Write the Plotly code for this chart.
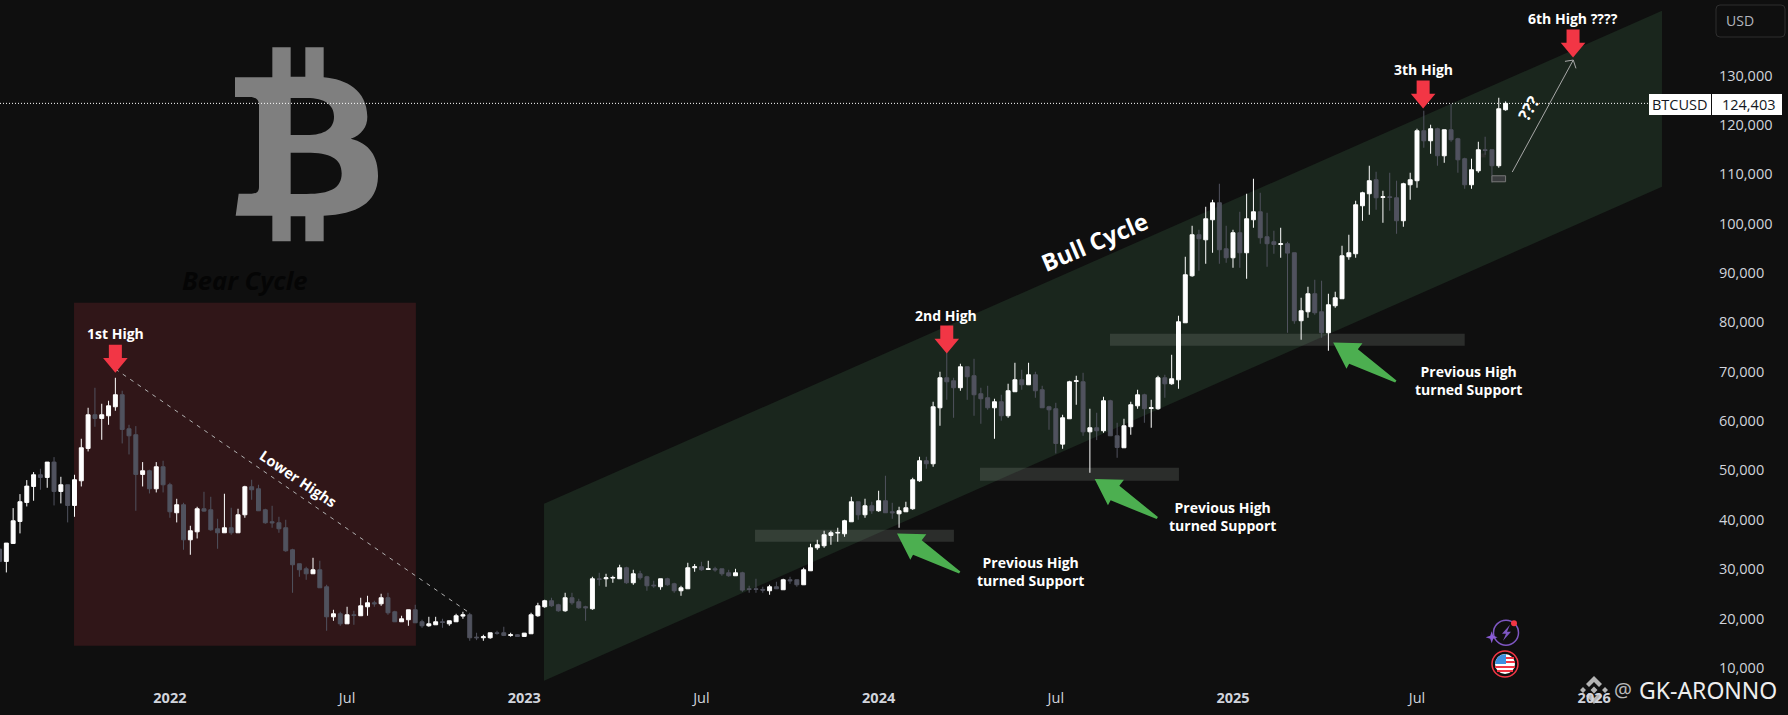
import re
import pandas as pd
import plotly.graph_objects as go

###############################################################################
#                          Weekly BTCUSD candles                              #
###############################################################################

first_week = "2021-07-12"

opens = [
    34050, 31550, 35200, 39660, 43510, 46750, 49120, 48580, 51690, 45740,
    47090, 42900, 47900, 54460, 61280, 60540, 61080, 62900, 65340, 58440,
    57230, 49190, 49930, 46280, 50740, 47090, 41420, 43040, 35940, 37560,
    42230, 42020, 38170, 37360, 38380, 37360, 41010, 46690, 46280, 42020,
    39590, 39390, 38380, 33920, 31080, 30060, 29050, 29860, 26410, 20330,
    20940, 18910, 20740, 20540, 22360, 23170, 22970, 24190, 21350, 19320,
    19730, 21750, 19320, 18510, 18710, 19320, 18910, 19320, 20470, 20740,
    16210, 16080, 16080, 17090, 17090, 16550, 16690, 16350, 16890, 20540,
    22360, 23580, 22770, 21550, 24190, 23380, 22360, 21960, 28040, 28040,
    28170, 28040, 30270, 27230, 29050, 28440, 26750, 26420, 28040, 27020,
    25610, 26010, 30270, 30470, 29930, 30060, 30060, 29250, 28650, 29250,
    26010, 26010, 25880, 25610, 26420, 25810, 27840, 27840, 26820, 29660,
    34320, 34730, 36820, 37300, 37160, 39590, 43650, 41010, 42840, 41820,
    43850, 41620, 41210, 41620, 42230, 47900, 51960, 51350, 62700, 68780,
    68170, 66760, 71010, 69190, 65540, 64730, 62700, 63920, 61080, 65950,
    68370, 67360, 69390, 66350, 62900, 62500, 55330, 60470, 68040, 67970,
    57830, 58650, 58040, 64120, 57020, 54590, 58850, 63100, 65330, 62560,
    62500, 68780, 67560, 68370, 79930, 89460, 97770, 96750, 100810, 104260,
    94930, 93110, 98180, 94120, 100810, 102430, 97360, 96350, 95810, 95950,
    94120, 80340, 82160, 85810, 82160, 77900, 83380, 84800, 93310, 93920,
    103650, 106080, 108920, 105340, 105470, 105270, 100610, 107900, 108720, 118850,
    116820, 119260, 113780, 119050, 117230, 113180, 107900, 110740, 115000, 115000,
    111760, 123110]

highs = [
    34300, 35270, 42360, 45200, 48040, 49660, 50340, 51690, 52700, 48710,
    47100, 49120, 56420, 62700, 66750, 63510, 64120, 68780, 66150, 59250,
    58980, 51690, 50130, 51690, 51960, 47500, 44250, 43440, 38780, 42630,
    45670, 44660, 40200, 45270, 42430, 42230, 46890, 48110, 47090, 42230,
    42830, 40600, 40000, 34120, 31080, 30470, 32290, 31690, 26820, 21750,
    21350, 22360, 21550, 24190, 24590, 23580, 25000, 25200, 21550, 20540,
    21750, 22770, 19730, 20330, 20330, 19930, 19520, 20940, 21350, 21140,
    17090, 16690, 17090, 17500, 18310, 17090, 16820, 17050, 21150, 23170,
    23780, 24190, 22970, 25200, 25200, 23980, 22560, 28440, 29250, 29050,
    28650, 30880, 30470, 29860, 29660, 28650, 27630, 28040, 28240, 27230,
    26620, 31280, 31010, 31480, 31690, 30470, 30060, 29860, 30060, 29460,
    26620, 28040, 26420, 26820, 27430, 28040, 28440, 27840, 30270, 35130,
    35940, 37770, 37770, 38380, 40000, 44660, 43650, 44260, 43650, 45880,
    48920, 43440, 42630, 43650, 48510, 52770, 52770, 63920, 70000, 73850,
    68780, 71620, 71010, 72630, 66760, 67160, 64530, 65340, 67570, 71820,
    70400, 71820, 70000, 67160, 63100, 63710, 61280, 68170, 69190, 69790,
    62500, 61690, 64930, 64320, 59660, 60470, 63920, 66350, 65540, 64320,
    69190, 69390, 73440, 81350, 93310, 99590, 98780, 103440, 104860, 108110,
    99590, 98780, 102430, 106080, 109120, 106280, 102230, 98580, 99190, 96350,
    94120, 85000, 87230, 88650, 88450, 85810, 86220, 95540, 97770, 104660,
    106490, 111760, 110540, 106690, 110340, 108720, 108310, 110340, 119260, 122910,
    120070, 119460, 119050, 124320, 117430, 113380, 113180, 116620, 117640, 115000,
    125540, 124800]

lows = [
    31000, 29320, 35200, 37230, 42700, 43850, 46080, 46480, 42900, 43310,
    39460, 40600, 46750, 53850, 58850, 56210, 59250, 62090, 55470, 53240,
    41820, 46750, 45330, 45540, 45540, 40400, 39460, 33920, 32900, 36210,
    41620, 37770, 34120, 37360, 36960, 37360, 40400, 44050, 41820, 39190,
    38380, 37360, 33510, 25200, 28440, 27830, 29050, 26210, 17500, 19520,
    18510, 18910, 18710, 20540, 20540, 22360, 22560, 20740, 19320, 19320,
    18510, 19120, 18100, 18310, 18710, 18100, 18510, 19320, 19930, 15470,
    15600, 15470, 15870, 16690, 16420, 16280, 16350, 16300, 16890, 20330,
    22160, 22360, 21350, 21350, 22770, 21960, 19520, 21750, 26620, 26420,
    27230, 28040, 27020, 26820, 27840, 25610, 26210, 25810, 26620, 25200,
    24590, 26010, 29460, 29660, 29930, 29460, 28650, 28440, 28650, 25400,
    25200, 25200, 25200, 24800, 26010, 25810, 27020, 26420, 26820, 29660,
    33920, 34320, 34930, 35540, 36550, 39590, 40000, 40400, 41210, 41620,
    41420, 40200, 38380, 41620, 42020, 47700, 50340, 50740, 59050, 64320,
    60670, 66150, 64320, 61080, 59460, 62300, 56420, 60070, 60670, 65950,
    66350, 67360, 64730, 62700, 58240, 53440, 54390, 60470, 63310, 57020,
    49520, 56150, 57630, 57020, 52560, 54590, 57230, 62500, 59660, 58650,
    62290, 64730, 67360, 66550, 79930, 89250, 90470, 91890, 94120, 91890,
    92090, 91080, 91080, 88850, 99190, 95950, 91280, 93920, 93110, 77900,
    79730, 76490, 80950, 81550, 76890, 74260, 82970, 84800, 92700, 93110,
    100610, 101820, 102840, 100200, 102640, 97970, 99390, 104860, 107300, 115410,
    114190, 111760, 112360, 116620, 110340, 107090, 107090, 110340, 113990, 108310,
    111350, 122910]

closes = [
    31550, 35270, 39790, 43650, 46820, 49120, 48580, 51690, 45740, 47090,
    42900, 48110, 54590, 61280, 60540, 61280, 63100, 65340, 58310, 57020,
    49190, 49930, 46280, 50740, 47090, 41620, 43040, 35940, 37770, 42230,
    41750, 37970, 37360, 38380, 37360, 41010, 46690, 46080, 41820, 39390,
    39390, 38170, 33710, 30880, 29860, 29050, 29860, 26210, 20330, 20940,
    18910, 20740, 20600, 22560, 23170, 22970, 24190, 21140, 19320, 19930,
    21750, 19120, 18510, 18910, 19320, 19190, 19520, 20540, 20740, 16080,
    16080, 16280, 17090, 16960, 16550, 16690, 16350, 17020, 20740, 22560,
    23580, 22560, 21550, 24190, 23170, 22160, 22160, 28040, 27900, 28240,
    28300, 30270, 27230, 29050, 28240, 26620, 26620, 28040, 26820, 25610,
    26210, 30270, 30470, 29860, 30060, 29860, 29050, 28650, 29250, 25740,
    25880, 25880, 25740, 26420, 26010, 27840, 27630, 26820, 29860, 34320,
    34930, 36960, 37360, 37430, 39800, 43650, 41010, 42840, 41820, 43850,
    41420, 41420, 41820, 42430, 48110, 51960, 51350, 62900, 68780, 67970,
    66760, 71010, 68990, 65340, 64530, 62700, 63920, 61080, 66150, 68380,
    67360, 69390, 66150, 62700, 62290, 55470, 60670, 67970, 68170, 57830,
    58650, 58040, 64120, 57020, 54660, 59050, 63310, 65330, 62500, 62700,
    68780, 67560, 68580, 80130, 89660, 97770, 96960, 101010, 104250, 94730,
    93110, 98180, 94120, 101010, 102430, 97160, 95950, 95810, 95950, 94050,
    80340, 82360, 85810, 81960, 77900, 83580, 85000, 93510, 94120, 103850,
    106280, 108720, 105270, 105470, 105340, 100610, 108110, 108920, 118850, 116820,
    119260, 113780, 119050, 117030, 112970, 107900, 110950, 115000, 114870, 111760,
    123310, 124403]

last_price = 124403

tick_dates = ["2022-01-03", "2022-07-04", "2023-01-02", "2023-07-03", "2024-01-01",
              "2024-07-01", "2024-12-30", "2025-07-07", "2026-01-05"]
tick_labels = ["<b>2022</b>", "Jul", "<b>2023</b>", "Jul", "<b>2024</b>",
               "Jul", "<b>2025</b>", "Jul", "<b>2026</b>"]
price_ticks = [10000, 20000, 30000, 40000, 50000, 60000, 70000,
               80000, 90000, 100000, 110000, 120000, 130000]

# Drawings, in bars since first_week and price
channel_bars = [79.9, 243.95, 243.95, 79.9]
channel_prices = [43240, 143170, 107500, 7365]
bear_bars = [10.93, 61.1]
bear_prices = [14460, 83985]
trend_bars = [17.0, 68.93]
trend_prices = [70546, 21149]
zone_start = [110.86, 143.87, 162.95]
zone_end = [140.05, 173.07, 215.0]
zone_low = [35540, 47900, 75270]
zone_high = [37970, 50540, 77700]
high_bars = [17.0, 139.0, 208.9, 230.9]
high_prices = [69800, 73710, 123370, 133710]
support_bars = [131.7, 160.7, 195.7]
support_prices = [37220, 48250, 75940]

BG = "#0f0f0f"
FONT = "Open Sans"
PLOT_W = 1718
PLOT_H = 687
x_range_bars = [0.07, 252.17]
y_range = [6100, 145355]


def bar_date(i):
    return pd.Timestamp(first_week) + pd.Timedelta(days=7 * i)


def path_date(i):
    return bar_date(i).strftime("%Y-%m-%d_%H:%M:%S")


def px(x):
    return x / PLOT_W


def py(y):
    return 1 - y / PLOT_H


def pixel_path(d, scale=1.0):
    # y grows downward in what I write, pixel mode shapes want it upward
    def flip(m):
        return f"{float(m.group(1)) * scale:.2f},{-float(m.group(2)) * scale:.2f}"
    return re.sub(r"(-?[\d.]+),(-?[\d.]+)", flip, d)


###############################################################################
#                                  Figure                                     #
###############################################################################

weeks = pd.date_range(first_week, periods=len(opens), freq="7D")

fig = go.Figure()
fig.add_trace(go.Candlestick(
    x=weeks, open=opens, high=highs, low=lows, close=closes,
    increasing=dict(line=dict(color="#ffffff", width=1), fillcolor="#ffffff"),
    decreasing=dict(line=dict(color="#50525e", width=1), fillcolor="#50525e"),
    whiskerwidth=0, showlegend=False, name="BTCUSD"))

shapes = []
texts = []


def pixel_shape(d, x, y, xref="x", yref="y", scale=1.0, **style):
    shapes.append(dict(type="path", path=pixel_path(d, scale),
                       xref=xref, yref=yref, xsizemode="pixel", ysizemode="pixel",
                       xanchor=x, yanchor=y, **style))


def paper_shape(d, x, y, scale=1.0, **style):
    pixel_shape(d, px(x), py(y), "paper", "paper", scale, **style)


def circle(x, y, r, **style):
    shapes.append(dict(type="circle", xref="paper", yref="paper",
                       xsizemode="pixel", ysizemode="pixel",
                       xanchor=px(x), yanchor=py(y),
                       x0=-r, x1=r, y0=-r, y1=r, **style))


def label(text, x, y, size=14, color="#ffffff", angle=0, family=FONT):
    texts.append(dict(text=text, xref="paper", yref="paper", x=px(x), y=py(y),
                      xanchor="center", yanchor="middle", showarrow=False,
                      textangle=angle, font=dict(size=size, color=color, family=family)))


# Bitcoin logo
logo = ("M397,82 L452,82 L452,170 L496,170 L496,82 L551,82 L551,172 "
        "C620,178 680,210 682,290 C682,320 665,345 632,356 "
        "C690,370 715,410 714,470 C712,550 650,582 551,587 "
        "L551,664 L496,664 L496,589 L452,589 L452,664 L397,664 L397,587 L287,587 L296,521 "
        "L335,521 C350,521 357,515 357,500 L357,255 C357,238 345,231 330,231 "
        "L285,231 L285,172 L397,172 Z "
        "M452,234 L452,345 L500,345 C555,345 582,325 582,290 C582,255 555,234 500,234 Z "
        "M452,398 L452,522 L500,522 C570,522 605,505 605,460 C605,415 570,398 500,398 Z")
paper_shape(logo, 140, 20, 1 / 3, fillcolor="#7f7f7f", line=dict(width=0), layer="below")

# Binance mark under the watermark
binance = ("M0,-14 L8,-6 L5,-3 L0,-8 L-5,-3 L-8,-6 Z "
           "M-11,-3 L-8,0 L-11,3 L-14,0 Z M11,-3 L14,0 L11,3 L8,0 Z "
           "M0,-3.5 L3.5,0 L0,3.5 L-3.5,0 Z "
           "M0,14 L8,6 L5,3 L0,8 L-5,3 L-8,6 Z")
paper_shape(binance, 1594, 690, fillcolor="#b4b4b4", line=dict(width=0), layer="below")

# Red zone of the bear market
shapes.append(dict(type="rect", xref="x", yref="y", layer="below",
                   x0=bar_date(bear_bars[0]), x1=bar_date(bear_bars[1]),
                   y0=bear_prices[0], y1=bear_prices[1],
                   fillcolor="#301618", line=dict(width=0)))

# Bull channel
channel_path = "M" + " L".join(f"{path_date(b)},{p}" for b, p in zip(channel_bars, channel_prices)) + " Z"
shapes.append(dict(type="path", xref="x", yref="y", layer="below", path=channel_path,
                   fillcolor="#1a261d", line=dict(width=0)))

# Previous high zones
for i in range(len(zone_start)):
    shapes.append(dict(type="rect", xref="x", yref="y", layer="below",
                       x0=bar_date(zone_start[i]), x1=bar_date(zone_end[i]),
                       y0=zone_low[i], y1=zone_high[i],
                       fillcolor="rgba(140,148,140,0.23)", line=dict(width=0)))

# Small boxes near the last candles
shapes.append(dict(type="rect", xref="x", yref="y", layer="below",
                   x0=bar_date(217.4), x1=bar_date(218.1), y0=113440, y1=114250,
                   fillcolor="#2b2e2b", line=dict(width=0)))
shapes.append(dict(type="rect", xref="x", yref="y", layer="above",
                   x0=bar_date(219.0), x1=bar_date(221.0), y0=108510, y1=109730,
                   fillcolor="#3a3c3e", line=dict(color="#777777", width=1)))

# Lower highs line and last price line
shapes.append(dict(type="line", xref="x", yref="y", layer="above",
                   x0=bar_date(trend_bars[0]), x1=bar_date(trend_bars[1]),
                   y0=trend_prices[0], y1=trend_prices[1],
                   line=dict(color="#b0b0b0", width=1, dash="4px,5px")))
shapes.append(dict(type="line", xref="paper", yref="y", layer="above",
                   x0=0, x1=px(1648), y0=last_price, y1=last_price,
                   line=dict(color="#ffffff", width=1, dash="1px,2px")))

# Red arrows on the highs, tip on the point
red_arrow = "M0,0 L-12.3,-14.7 L-6.5,-14.7 L-6.5,-28 L6.5,-28 L6.5,-14.7 L12.3,-14.7 Z"
for b, p in zip(high_bars, high_prices):
    pixel_shape(red_arrow, bar_date(b), p, fillcolor="#f23645", line=dict(width=0))

# Green arrows to the support zones
green_arrow = "M0,0 L29.3,0.7 L24.7,6.7 L63.3,38 L62,40 L16,21.3 L13.3,26.3 Z"
for b, p in zip(support_bars, support_prices):
    pixel_shape(green_arrow, bar_date(b), p, fillcolor="#4caf50", line=dict(width=0))

# Projection arrow
pixel_shape("M0,0 L61,-112 L52.7,-110.7 M61,-112 L63.7,-103.7", bar_date(221.98), 110480,
            line=dict(color="#a8a8a8", width=1))

# Price label and USD box
for x0, x1 in [(1649, 1711), (1712, 1782)]:
    shapes.append(dict(type="rect", xref="paper", yref="paper", layer="above",
                       x0=px(x0), x1=px(x1), y0=py(115), y1=py(94),
                       fillcolor="#ffffff", line=dict(width=0)))
paper_shape("M4,0 L65,0 Q69,0 69,4 L69,28 Q69,32 65,32 L4,32 Q0,32 0,28 L0,4 Q0,0 4,0 Z",
            1716, 5, line=dict(color="#2e2e2e", width=1), fillcolor=BG)

# Purple and flag icons
circle(1506, 632.7, 12.5, line=dict(color="#7e57c2", width=1.5))
paper_shape("M4,-8 L-4,1 L0,1 L-3,8 L5,-1 L1,-1 Z", 1506, 632.7, fillcolor="#7e57c2", line=dict(width=0))
paper_shape("M0,-6 L1.5,-1.5 L6,0 L1.5,1.5 L0,6 L-1.5,1.5 L-6,0 L-1.5,-1.5 Z", 1491.7, 637.3,
            fillcolor="#8a5cd6", line=dict(width=0))
circle(1514, 623.3, 3, fillcolor="#f23645", line=dict(width=0))
circle(1505, 664, 13, line=dict(color="#f23645", width=1.5))
circle(1505, 664, 10, fillcolor="#ffffff", line=dict(width=0))
paper_shape("M-10,0 L-9,-4 L-7,-7 L-4,-9 L1,-10 L1,0 Z", 1505, 664, fillcolor="#3d8fe0", line=dict(width=0))
paper_shape("M1,-6 L9,-6 M1,-2 L10,-2 M-10,3 L10,3 M-8,7 L8,7", 1505, 664, line=dict(color="#f23645", width=2))

###############################################################################
#                                   Texts                                     #
###############################################################################

label("<b>1st High</b>", 115, 334)
label("<b>2nd High</b>", 946, 315)
label("<b>3th High</b>", 1423, 70)
label("<b>6th High ????</b>", 1573, 19)
label("<b>Lower Highs</b>", 298, 478, size=14.5, angle=34)
label("<b>Bull Cycle</b>", 1094, 242, size=23.5, angle=-23)
label("<b><i>Bear Cycle</i></b>", 244, 280, size=25.5, color="#050505")
label("<b>???</b>", 1528, 108, size=17, angle=-60)
label("<b>Previous High<br>turned Support</b>", 1030, 571)
label("<b>Previous High<br>turned Support</b>", 1222, 516)
label("<b>Previous High<br>turned Support</b>", 1468, 380)
label("BTCUSD", 1680, 104.5, size=14.5, color="#131722")
label(f"{last_price:,}", 1749.5, 104.5, size=14.5, color="#131722")
label("USD", 1740, 20, size=14, color="#b2b5be")
label("@", 1623, 689, size=20, color="#b9b9b9", family="Noto Sans")
label("GK-ARONNO", 1708, 690, size=23, color="#eeeeee", family="Noto Sans")

###############################################################################
#                                  Layout                                     #
###############################################################################

fig.update_layout(
    width=1788, height=715,
    margin=dict(l=0, r=1788 - PLOT_W, t=0, b=715 - PLOT_H),
    paper_bgcolor=BG, plot_bgcolor=BG,
    font=dict(family=FONT, color="#d1d4dc", size=14.5),
    boxgap=0.42, boxgroupgap=0,
    showlegend=False,
    shapes=shapes, annotations=texts,
    xaxis=dict(range=[bar_date(x_range_bars[0]), bar_date(x_range_bars[1])],
               rangeslider=dict(visible=False), showgrid=False, zeroline=False,
               showline=False, ticks="", tickmode="array",
               tickvals=tick_dates, ticktext=tick_labels),
    yaxis=dict(range=y_range, side="right", showgrid=False, zeroline=False,
               showline=False, ticks="", tickmode="array", tickvals=price_ticks,
               tickformat=",d"))

fig.write_html("out.html", config=dict(displayModeBar=False),
               post_script="document.body.style.margin='0';")
